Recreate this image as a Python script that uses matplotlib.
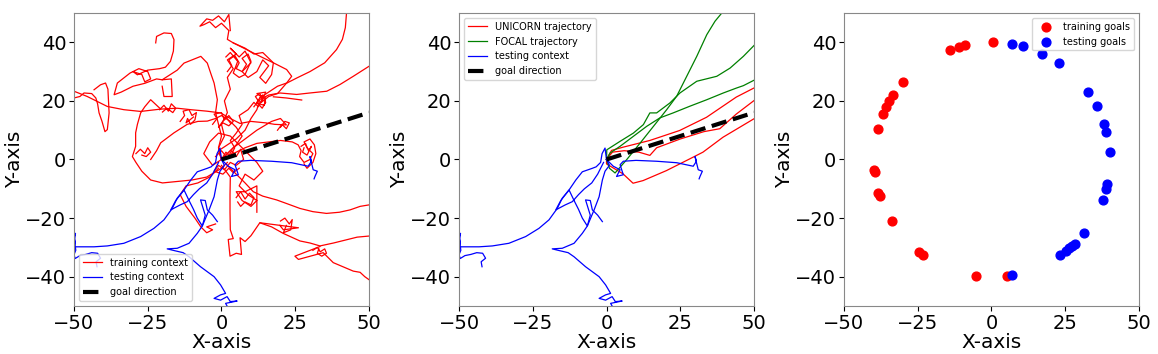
import numpy as np
import matplotlib.pyplot as plt

# goal direction (same in first two panels)
goal_x = [0, 50]
goal_y = [0, 16]

# testing context trajectories (blue), shared by panel 1 and 2
test_1 = [(0, 0), (-0.5, 3.9), (-1.5, 2), (-2, -1), (-3.5, -2.5), (-4.8, -3), (-8.2, -4.2),
          (-10.4, -7), (-12.7, -10.4), (-15, -13.2), (-16.7, -16.7), (-19.5, -20.6),
          (-22.9, -23.5), (-27.4, -26.3), (-33.1, -28.6), (-38.7, -29.5), (-43.2, -29.8),
          (-47, -29.8), (-50, -29.8), (-49.6, -28), (-50, -26.5), (-49.5, -25.2),
          (-49.8, -27.5), (-49.4, -31), (-50, -32.5), (-49.6, -33.8), (-48, -32.8),
          (-46, -32.4), (-44, -31.8), (-42, -32), (-41, -33.7), (-42.5, -34.9), (-42.2, -36.6)]
test_2 = [(0, 0), (1, -2), (-0.5, -4), (-1.4, -7), (-2.5, -12.7), (-4.2, -17.2), (-6.5, -22.7),
          (-8.2, -25.2), (-11, -28.6), (-15, -30.3), (-18.4, -30.5), (-16.4, -31), (-13, -31.8),
          (-11, -33.2), (-7.1, -36.6), (-2.5, -40), (-0.3, -42.8), (1.4, -45.7), (-0.3, -46.2),
          (-2.5, -47.4), (-0.3, -48), (1.9, -46.8), (3, -48.5), (5.3, -48.3), (1.4, -49.1),
          (1.9, -50)]
test_3 = [(-1, -1), (-3, -5), (-5, -8), (-7.5, -10), (-9.5, -12), (-11.6, -14.4), (-14, -15.5),
          (-17.2, -17.2), (-15.5, -14), (-12.7, -10.4), (-11, -14), (-9.5, -17), (-8.2, -20),
          (-6.5, -22.7), (-5.5, -19), (-7.1, -13.8), (-5.5, -14), (-4.8, -17.2), (-3, -19),
          (-1.4, -21.2)]
test_4 = [(0, 0), (2.3, -2.3), (4.6, -3.5), (3.4, -5.8), (5.7, -5.2), (4.6, -1.8), (5.7, -0.6),
          (10, -0.3), (17, -0.6), (23.8, -1.1), (29.4, -2.3), (30.5, -0.6), (30, 1),
          (31.1, -3.5), (32.5, -4), (31.7, -5.8), (31.4, -6.6)]
testing = [test_1, test_2, test_3, test_4]

# training context trajectories (red), panel 1
train_1 = [(0, 0), (1.5, 2.5), (3, 1), (4.5, 4), (3, 6.5), (5, 9), (7, 12), (6, 15), (9, 17),
           (11, 19.5), (12.5, 18), (14, 21), (12, 22.5), (15, 23), (13.5, 19.5), (16, 21.5),
           (19, 22.5), (22, 26), (25.5, 27.8), (30, 30), (35, 33), (39, 37.5), (41, 41),
           (42, 45), (42.4, 50)]
train_2 = [(0, 0), (-1, 3), (2, 5), (5, 7), (8, 10), (10, 14), (12, 17), (13, 20.5), (16, 22),
           (19.8, 22.7), (25.5, 22.2), (30, 22.7), (35.7, 23.3), (40.2, 25.6), (44.7, 28.4),
           (50, 31.8)]
train_3 = [(0, 0), (-1, 4), (1, 8), (0, 12), (2, 16), (1, 20), (3, 24), (2, 28), (4, 31),
           (2, 34), (5, 36), (3, 38), (6, 35), (8, 37), (10, 33), (7, 30), (9, 28), (12, 30),
           (14, 34), (16, 32), (13, 28), (15, 26), (17, 29), (17.6, 33), (14, 36.5), (11, 36),
           (8, 38), (4, 39.8), (2, 41), (2.5, 44), (0, 46.5), (-2, 45), (-4, 47), (-6, 46),
           (-7.3, 45.5), (-5, 48), (-3, 47.5), (-1, 49), (1, 47), (2.5, 49.5), (3, 44)]
train_4 = [(-50, 23.3), (-45.5, 21.5), (-38.7, 18.1), (-33.1, 17), (-27.4, 16.4),
           (-20.6, 17.2), (-15, 17.5), (-10.4, 17), (-5, 16.5), (-0.3, 15.9), (3, 14), (6.3, 12.3),
           (10, 13), (15, 12.5), (18, 12), (22, 11.8), (20, 14), (17, 13), (12, 10), (8, 7),
           (4, 4), (1, 1)]
train_5 = [(-22.3, 39.8), (-22, 42), (-19.5, 43.2), (-17, 43), (-16.1, 40.9), (-16.3, 37),
           (-17.3, 33.5), (-19, 31.5), (-21, 31), (-25, 30.5), (-28.5, 28.9), (-30, 30),
           (-27, 29), (-26, 26.5), (-24, 27.5), (-25, 30), (-28, 31), (-31, 29.5),
           (-35.3, 26.1), (-36.4, 22.1), (-34, 23), (-30, 25), (-26, 26), (-22, 27.5),
           (-20.1, 27.2), (-17, 27.5), (-16.7, 21.5), (-19.5, 21.5), (-20.1, 25)]
train_6 = [(-20.1, 27.2), (-15, 30.5), (-12.7, 32.9), (-7, 35.2), (-4.8, 32.9), (-3.5, 29),
           (-2.5, 26.1), (-1.4, 20.4), (-2, 16), (-1, 12), (0, 8), (-1, 4), (0, 0)]
train_7 = [(4, 39.8), (13.1, 35.2), (17.6, 33), (22.1, 30.7), (23.8, 28.4), (22.1, 26.1),
           (19, 25), (16, 23), (13, 21)]
train_8 = [(-43.2, 23.8), (-41, 25.5), (-39.3, 26.1), (-38.5, 24), (-38.1, 15.9), (-38.5, 12),
           (-38.7, 10.2), (-39.5, 9.5), (-40.5, 13), (-41.5, 15.9), (-42, 19), (-42.6, 21),
           (-44, 22.5), (-46.6, 22.7), (-48, 21.5), (-50, 21)]
train_9 = [(-20.6, 17.2), (-24, 20.4), (-26, 18), (-27.4, 15.9), (-28.5, 12), (-29.1, 9.1),
           (-29.1, 4.5), (-30.2, 1), (-29, -1), (-27, -4), (-24, -7), (-20, -8), (-15, -7.5),
           (-10, -7), (-5, -6), (0, -3), (2, -1)]
train_10 = [(-24, 0), (-22, 3), (-20.6, 5.7), (-16.1, 9.1), (-11.6, 12), (-8, 13),
            (-4.8, 13.1), (-2, 14), (0, 15), (3, 13), (5, 11), (7, 8), (5, 5), (3, 3), (1, 1)]
train_11 = [(0, 0), (4, 2), (8, 4), (12, 5.5), (16, 6), (20, 6.5), (24, 6), (26, 5), (27, 3),
            (26.5, 1), (28, -1), (30, 0), (31, 2), (29, 4), (28, 6), (30, 7), (31.5, 5),
            (32, 2), (31, -1), (29, -3), (28, -1.5)]
train_12 = [(2, -2), (5, -5), (8, -8), (10.8, -11), (14, -12.5), (18.7, -13.8), (22, -15),
            (26.6, -16.7), (31, -17.8), (35.6, -18.4), (40, -18), (43.6, -17.2), (47, -16),
            (50, -15.5)]
train_13 = [(0, -2), (3, -6), (2.9, -12), (2.9, -18), (3, -24), (4, -27), (2.3, -27.3),
            (2.9, -33), (5, -32), (6.8, -32.4), (6.3, -26.7), (8, -28), (10, -26),
            (13, -21.6), (17, -23), (20.9, -25.2), (26.6, -27.8), (30, -28.5), (33.4, -29.5),
            (38, -28.5), (42, -27.5), (46, -26.5), (50.3, -26.1)]
train_14 = [(33.4, -29.7), (24.9, -33), (26.1, -34.1), (34.5, -31.8), (37.9, -35.2),
            (44.7, -38.1), (47, -38.5), (48.6, -40), (50, -41)]
train_15 = [(0, 0), (-3, -2), (-6, 2), (-4, 6), (-1, 9), (3, 8), (6, 5), (9, 2), (12, -1),
            (14, -4), (11, -7), (8, -5), (6, -9), (9, -12), (12, -14), (10, -16), (7, -14),
            (5, -11), (8, -11), (12, -9), (12, -18)]
train_16 = [(-1, -3), (-4, -6), (-8, -8), (-12, -9), (-14, -12), (-12, -16), (-9, -20),
            (-7, -23), (-5, -25), (-3, -24), (-5, -23), (-2, -22)]
train_17 = [(13.1, -21.6), (20, -22.5), (26.1, -23.3), (21, -24), (19.8, -22.5)]
train_18 = [(17.6, 21.4), (22, 21), (27.2, 20.3)]
# small knots where the walks linger
knot_a = [(11, 18), (12.5, 20), (11.5, 21.5), (13, 22.5), (14, 20.5), (12.8, 19), (14.5, 18.5),
          (15, 21), (13.5, 21.8), (12, 19.5), (13.8, 17.5), (15, 19.5), (14, 22)]
knot_b = [(2, 30), (3.5, 32), (2.5, 34), (4.5, 35.5), (6, 33), (5, 31), (7, 30), (8.5, 32.5),
          (7, 34.5), (9, 36), (10, 33.5), (8, 29), (6, 28), (4, 29.5), (5.5, 33.5), (3, 36.5),
          (1.5, 35)]
knot_c = [(-3, 12), (-1.5, 14), (-2.5, 15.5), (0, 16), (1, 13.5), (2.5, 15), (4, 13),
          (2.5, 11.5), (0.5, 12.5), (-1, 11), (1.5, 14.5), (3, 12.5)]
knot_d = [(-14, 13), (-12.5, 15), (-13, 16.5), (-11, 17), (-10, 15), (-8.5, 16), (-9, 13.5),
          (-10.5, 12), (-11.5, 14), (-12, 12.5), (-9.5, 14.5)]
knot_e = [(-21, 17), (-19.5, 18.5), (-18, 16.5), (-17, 19), (-15.5, 17.5), (-16.5, 16),
          (-18.5, 17.5), (-20, 16.2)]
knot_g = [(27, 4.5), (28.5, 5.5), (29.5, 3), (30.5, 4.5), (29, 1.5), (27.5, 2.5), (28, 4)]
knot_i = [(31, -31), (32.5, -30), (33.5, -31.5), (35, -30.5), (35.6, -32), (34, -33),
          (32.5, -32), (33, -30.5)]
knot_j = [(5, -13), (6.5, -11), (8, -13.5), (9.5, -11.5), (11, -13), (10, -15.5), (8, -14.5),
          (6.5, -16), (5.5, -14.5)]
knot_k = [(-2, 1), (0, 3), (2, 0.5), (3.5, 3), (5, 1), (6.5, 3.5), (7.5, 0), (5, -2), (3, -1),
          (1, -3.5), (-1, -2), (-2.5, -4), (0.5, -5), (2.5, -3), (4, -4.5), (6, -3)]
knot_l = [(20, -21), (21.5, -20), (23, -22), (24, -20.5), (23.5, -24), (21, -25), (22, -22.5)]
knot_n = [(-29, 2), (-27.5, 3.5), (-26, 2), (-25, 4), (-24, 2.5), (-25.5, 1), (-27, 1.5)]
knot_p = [(19, 10), (20.5, 12), (22, 10.5), (23, 12.5), (21.5, 13), (20, 11)]
training = [train_1, train_2, train_3, train_4, train_5, train_6, train_7, train_8, train_9,
            train_10, train_11, train_12, train_13, train_14, train_15, train_16, train_17,
            train_18, knot_a, knot_b, knot_c, knot_d, knot_e, knot_g, knot_i, knot_j, knot_k,
            knot_l, knot_n, knot_p]

# panel 2 trajectories
unicorn_1 = [(0, 0), (1.7, 3.1), (5.6, 4.2), (14.7, 6.5), (24.8, 9.9), (33.9, 14.4),
             (44, 21.3), (50, 24.4)]
unicorn_2 = [(0, 0), (2, 2.5), (6, 3), (11, 2.5), (14.7, 1.4), (17, 4), (25, 7), (33, 9.5),
             (38.4, 10.5), (44, 15.5), (50, 20.1)]
unicorn_3 = [(0, 0), (0, -1.5), (5.6, -4.9), (9, -8.1), (12.4, -7.2), (20.3, -3.8),
             (28.2, 0.2), (32.7, 2.5), (39.5, 7.6), (50, 13.9)]
unicorn = [unicorn_1, unicorn_2, unicorn_3]

focal_1 = [(0, 0), (1, -3), (2.9, -4.6), (6.8, -0.1), (11.4, 5.6), (15.9, 11.3), (20.4, 17),
           (23.8, 21.6), (27.2, 28.4), (30.6, 35.2), (34, 42.6), (36.8, 47.2), (39.1, 50)]
focal_2 = [(0, 0), (0.1, 3.3), (4.6, 6.2), (9.1, 9), (12.5, 11.9), (14.7, 15.9), (17, 15.9),
           (21.5, 19.3), (24.9, 22.7), (30.6, 26.7), (37.4, 28.4), (41.9, 31.2), (46.4, 35.2),
           (50.3, 39.2)]
focal_3 = [(0, 0), (1.2, 2.2), (4.6, 4.5), (9.1, 7.9), (13.6, 11.3), (18.1, 14.2),
           (22.6, 15.9), (28.3, 18.2), (34, 20.4), (39.6, 22.7), (44.1, 24.4), (46.4, 25.2),
           (50.3, 27.2)]
focal = [focal_1, focal_2, focal_3]

# panel 3 goals
train_goal_x = [0.5, -14.1, -11.0, -8.8, -29.9, -33.3, -34.6, -35.6, -36.7, -38.6, -39.7,
                -39.6, -38.4, -37.8, -33.8, -24.6, -23.2, -5.1, 5.2]
train_goal_y = [40, 37.3, 38.4, 39.0, 26.4, 21.9, 19.9, 17.9, 15.6, 10.4, -3.5, -4.4, -11.5,
                -12.6, -21.1, -31.5, -32.6, -39.8, -39.8]
test_goal_x = [7.1, 10.6, 17.1, 22.9, 32.9, 35.8, 38.3, 39.0, 40.2, 39.3, 38.8, 37.8, 31.4,
               28.2, 27.2, 26.3, 25.4, 23.4, 7.1]
test_goal_y = [39.4, 38.6, 36.1, 32.9, 22.9, 18.3, 12.1, 9.5, 2.5, -8.3, -10.0, -13.8, -25.1,
               -28.7, -29.5, -30.3, -31.2, -32.6, -39.5]


def draw(ax, traj, color, label=None):
    pts = np.array(traj)
    ax.plot(pts[:, 0], pts[:, 1], color=color, lw=0.9, label=label)


def style(ax):
    ax.set_xlim(-50, 50)
    ax.set_ylim(-50, 50)
    ax.set_xticks([-50, -25, 0, 25, 50])
    ax.set_yticks([-40, -20, 0, 20, 40])
    ax.tick_params(labelsize=14, pad=2)
    ax.set_xlabel('X-axis', fontsize=14.5, labelpad=0)
    ax.set_ylabel('Y-axis', fontsize=14.5, labelpad=1)
    for s in ax.spines.values():
        s.set_color('#888888')


fig = plt.figure(figsize=(11.58, 3.54), dpi=100)
ax1 = fig.add_axes([0.0639, 0.1356, 0.2547, 0.8277])
ax2 = fig.add_axes([0.3964, 0.1356, 0.2547, 0.8277])
ax3 = fig.add_axes([0.7288, 0.1356, 0.2547, 0.8277])

# panel 1
for i, t in enumerate(training):
    draw(ax1, t, 'red', 'training context' if i == 0 else None)
for i, t in enumerate(testing):
    draw(ax1, t, 'blue', 'testing context' if i == 0 else None)
ax1.plot(goal_x, goal_y, 'k--', lw=3, label='goal direction')
ax1.legend(loc='lower left', fontsize=7)
style(ax1)

# panel 2
for i, t in enumerate(unicorn):
    draw(ax2, t, 'red', 'UNICORN trajectory' if i == 0 else None)
for i, t in enumerate(focal):
    draw(ax2, t, 'green', 'FOCAL trajectory' if i == 0 else None)
for i, t in enumerate(testing):
    draw(ax2, t, 'blue', 'testing context' if i == 0 else None)
ax2.plot(goal_x, goal_y, 'k--', lw=3, label='goal direction')
ax2.legend(loc='upper left', fontsize=7)
style(ax2)

# panel 3
ax3.scatter(train_goal_x, train_goal_y, color='red', s=40, label='training goals')
ax3.scatter(test_goal_x, test_goal_y, color='blue', s=40, label='testing goals')
ax3.legend(loc='upper right', fontsize=7)
style(ax3)

fig.savefig('out.png', dpi=100)
